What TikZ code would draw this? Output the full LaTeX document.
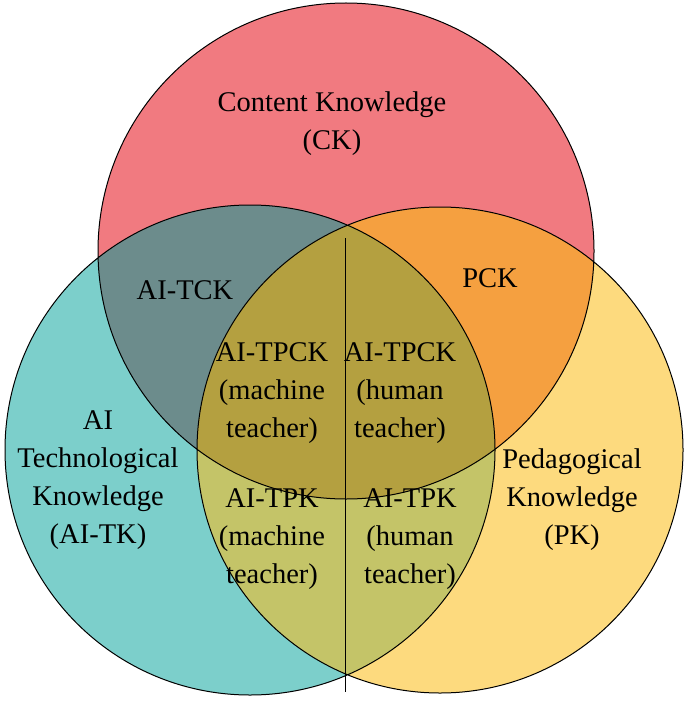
\documentclass[tikz,border=0pt]{standalone}
\usepackage{fontspec}
\setmainfont{Liberation Serif}
\begin{document}
\begin{tikzpicture}[x=1pt,y=-1pt,
  lbl/.style={align=center,font=\fontsize{28.5}{38}\selectfont,inner sep=0pt}]
\useasboundingbox (0,0) rectangle (685,706);
\def\cT{(346,251) circle (248)}
\def\cL{(250,450) circle (245)}
\def\cR{(440,450) circle (243)}
\fill[fill={rgb,255:red,241;green,122;blue,128}] \cT;
\fill[fill={rgb,255:red,124;green,207;blue,203}] \cL;
\fill[fill={rgb,255:red,253;green,218;blue,126}] \cR;
\begin{scope}\clip \cT; \fill[fill={rgb,255:red,108;green,140;blue,140}] \cL; \end{scope}
\begin{scope}\clip \cT; \fill[fill={rgb,255:red,245;green,160;blue,64}] \cR; \end{scope}
\begin{scope}\clip \cL; \fill[fill={rgb,255:red,196;green,196;blue,104}] \cR; \end{scope}
\begin{scope}\clip \cT; \clip \cL; \fill[fill={rgb,255:red,180;green,160;blue,64}] \cR; \end{scope}
\draw[line width=1pt] \cT \cL \cR;
\coordinate (vt) at (345,238);
\coordinate (vb) at (345,692);
\draw[line width=1pt] (vt) -- (vb);
\node[lbl] (ck) at (332,124) {Content Knowledge\\(CK)};
\node[lbl] (tck) at (185,290) {AI-TCK};
\node[lbl] (pck) at (490,278) {PCK};
\node[lbl] (tpckm) at (272,393) {AI-TPCK\\(machine\\teacher)};
\node[lbl] (tpckh) at (400,393) {AI-TPCK\\(human\\teacher)};
\node[lbl] (tk) at (98,480) {AI\\Technological\\Knowledge\\(AI-TK)};
\node[lbl] (pk) at (572,500) {Pedagogical\\Knowledge\\(PK)};
\node[lbl] (tpkm) at (272,539) {AI-TPK\\(machine\\teacher)};
\node[lbl] (tpkh) at (410,539) {AI-TPK\\(human\\teacher)};
\end{tikzpicture}
\end{document}
